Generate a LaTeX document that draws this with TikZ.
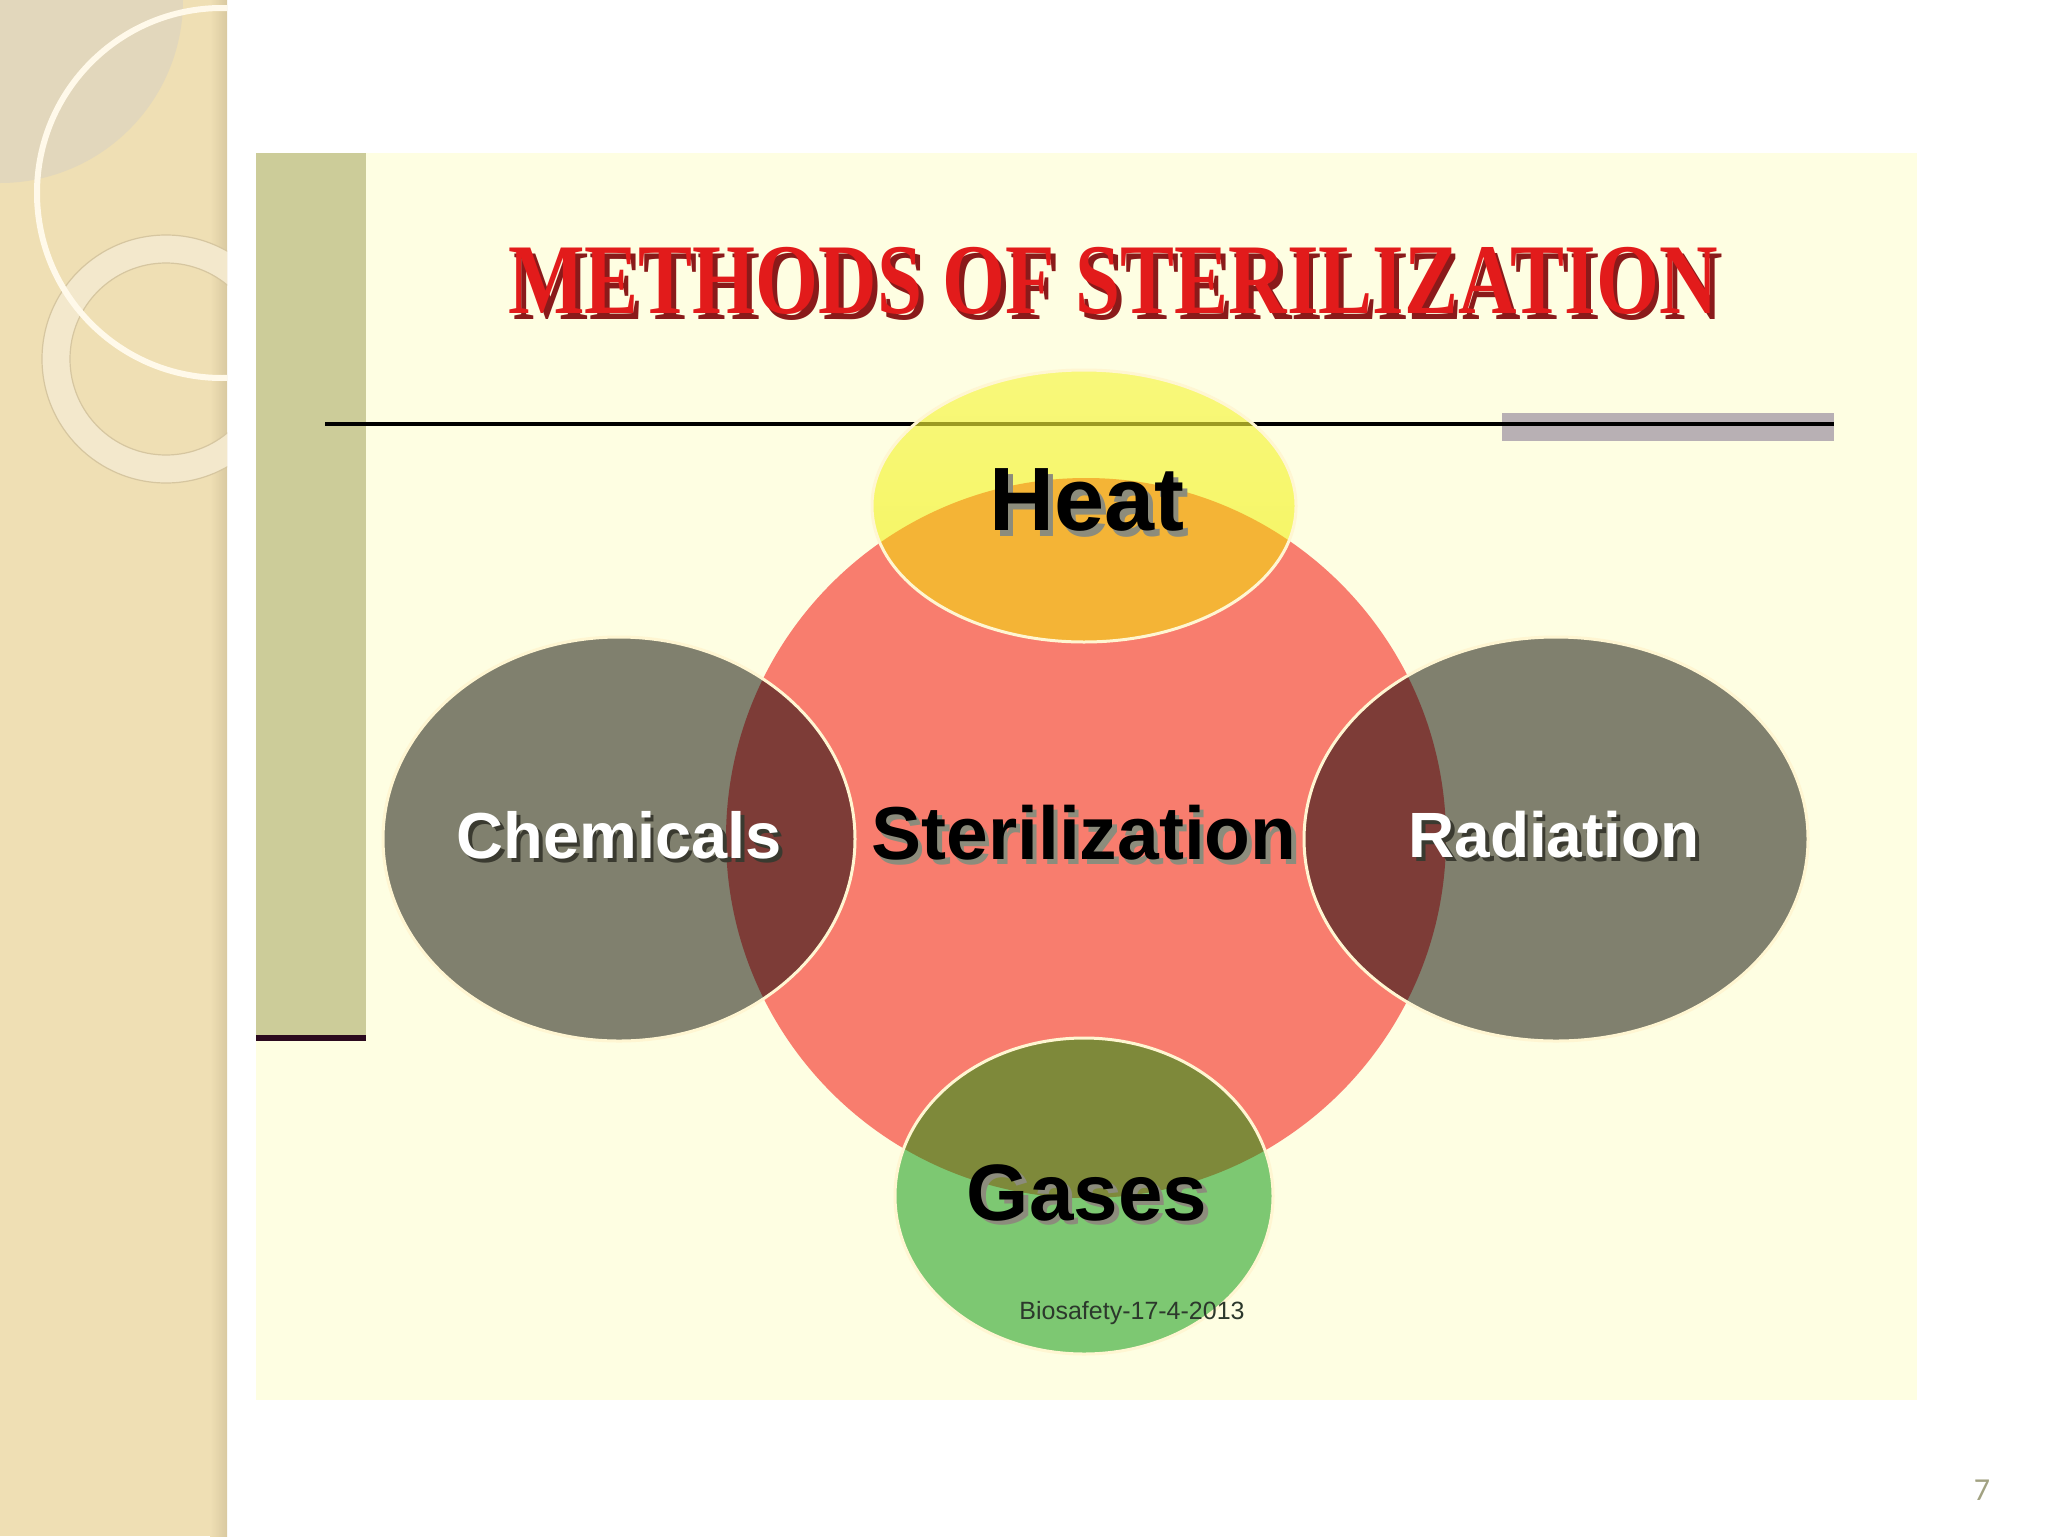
\documentclass[tikz,border=0pt]{standalone}
\usepackage{fontspec}
\setmainfont{Liberation Sans}
\newfontfamily\titlefont{Liberation Serif}
\newfontfamily\pagefont{Carlito}
\usepackage{xcolor}
\usepackage{graphicx}

\definecolor{panelbeige}{HTML}{EFDFB4}
\definecolor{panelshade}{HTML}{D9C9A0}
\definecolor{panelgray}{HTML}{E2D7BC}
\definecolor{ringcream}{HTML}{F3E8CC}
\definecolor{ringedge}{HTML}{D6C6A0}
\definecolor{ringwhite}{HTML}{FFF9EA}
\definecolor{cream}{HTML}{FEFEE2}
\definecolor{olivebar}{HTML}{CCCC99}
\definecolor{barline}{HTML}{2B0A1E}
\definecolor{graybar}{HTML}{B8B0B4}
\definecolor{salmon}{HTML}{F87D6E}
\definecolor{heatyellow}{HTML}{F5F55E}
\definecolor{heatpale}{HTML}{F8F87A}
\definecolor{heatline}{HTML}{9C9A22}
\definecolor{heatorange}{HTML}{F4B436}
\definecolor{stonegray}{HTML}{80806E}
\definecolor{maroon}{HTML}{7D3C37}
\definecolor{gasgreen}{HTML}{7DC872}
\definecolor{gasolive}{HTML}{7E893A}
\definecolor{rimcream}{HTML}{FFF6D2}
\definecolor{titlered}{HTML}{E21B1B}
\definecolor{titleshadow}{HTML}{8A1A1A}
\definecolor{softshadow}{HTML}{8C8C7C}
\definecolor{darkshadow}{HTML}{3A3A30}
\definecolor{stampgray}{HTML}{2C382C}
\definecolor{pagegray}{HTML}{A2A282}

% text with a drop shadow
\newcommand{\shadowed}[2]{\leavevmode\rlap{\kern0.06em\raisebox{-0.06em}{\textcolor{#1}{#2}}}#2}

\begin{document}
\begin{tikzpicture}[x=0.5pt, y=-0.5pt,
		every node/.style={inner sep=0pt},
		darktext/.style={text=black, font=\bfseries\fontsize{#1}{#1}\selectfont},
		lighttext/.style={text=white, font=\bfseries\fontsize{#1}{#1}\selectfont},
		rim/.style={draw=rimcream, line width=1.5pt}
		]
		\useasboundingbox (0,0) rectangle (2048,1536);
		
		% fondo de la diapositiva
		\fill[white] (0,0) rectangle (2048,1536);
		\fill[panelbeige] (0,0) rectangle (227,1536);
		\shade[left color=panelbeige, right color=panelshade] (210,0) rectangle (227,1536);
		\begin{scope}
			\clip (0,0) rectangle (227,1536);
			\fill[panelgray] (0,0) circle [radius=183];
			\fill[ringcream, even odd rule, draw=ringedge, line width=0.6pt] (166,359) circle [radius=124] (166,359) circle [radius=96];
			\draw[ringwhite, line width=3pt] (222,193) circle [radius=185];
		\end{scope}
		
		% marco del esquema
		\fill[cream] (256,153) rectangle (1917,1400);
		\fill[olivebar] (256,153) rectangle (366,1038);
		\draw[barline, line width=3pt] (256,1038) -- (366,1038);
		\fill[graybar] (1502,413) rectangle (1834,441);
		\draw[line width=2pt] (325,424) -- (1834,424);
		
		% centros
		\coordinate (hub) at (1086,838);
		\coordinate (heatc) at (1084,506);
		\coordinate (chemc) at (619,839);
		\coordinate (radc) at (1556,839);
		\coordinate (gasc) at (1084,1196);
		
		% circulos
		\fill[salmon] (hub) circle [radius=360];
		\shade[top color=heatpale, bottom color=heatyellow] (heatc) ellipse [x radius=212, y radius=136];
		\fill[stonegray] (chemc) ellipse [x radius=236, y radius=202];
		\fill[stonegray] (radc) ellipse [x radius=252, y radius=202];
		\fill[gasgreen] (gasc) ellipse [x radius=189, y radius=158];
		
		% linea vista a traves de Heat
		\begin{scope}
			\clip (heatc) ellipse [x radius=212, y radius=136];
			\draw[heatline, line width=2pt] (325,424) -- (1834,424);
		\end{scope}
		
		% zonas comunes
		\begin{scope}
			\clip (hub) circle [radius=360];
			\fill[heatorange] (heatc) ellipse [x radius=212, y radius=136];
			\fill[maroon] (chemc) ellipse [x radius=236, y radius=202];
			\fill[maroon] (radc) ellipse [x radius=252, y radius=202];
			\fill[gasolive] (gasc) ellipse [x radius=189, y radius=158];
		\end{scope}
		
		% bordes
		\draw[rim] (heatc) ellipse [x radius=212, y radius=136];
		\draw[rim] (chemc) ellipse [x radius=236, y radius=202];
		\draw[rim] (radc) ellipse [x radius=252, y radius=202];
		\draw[rim] (gasc) ellipse [x radius=189, y radius=158];
		
		% textos
		\node[text=titlered, font=\titlefont\bfseries\fontsize{50}{50}\selectfont] (title) at (1113,284) {\scalebox{0.81}[1]{\shadowed{titleshadow}{METHODS OF STERILIZATION}}};
		\node[darktext=45] (heat) at (1087,503) {\shadowed{softshadow}{Heat}};
		\node[darktext=37.5] (steril) at (1084,835) {\shadowed{softshadow}{Sterilization}};
		\node[lighttext=32.5] (chem) at (619,837) {\shadowed{darkshadow}{Chemicals}};
		\node[lighttext=32] (rad) at (1554,837) {\shadowed{darkshadow}{Radiation}};
		\node[darktext=40] (gases) at (1087,1195) {\shadowed{softshadow}{Gases}};
		\node[text=stampgray, font=\fontsize{12.5}{12.5}\selectfont] (stamp) at (1132,1313) {Biosafety-17-4-2013};
		\node[text=pagegray, font=\pagefont\fontsize{16}{16}\selectfont] (pagenum) at (1982,1490) {7};
		
\end{tikzpicture}
\end{document}
